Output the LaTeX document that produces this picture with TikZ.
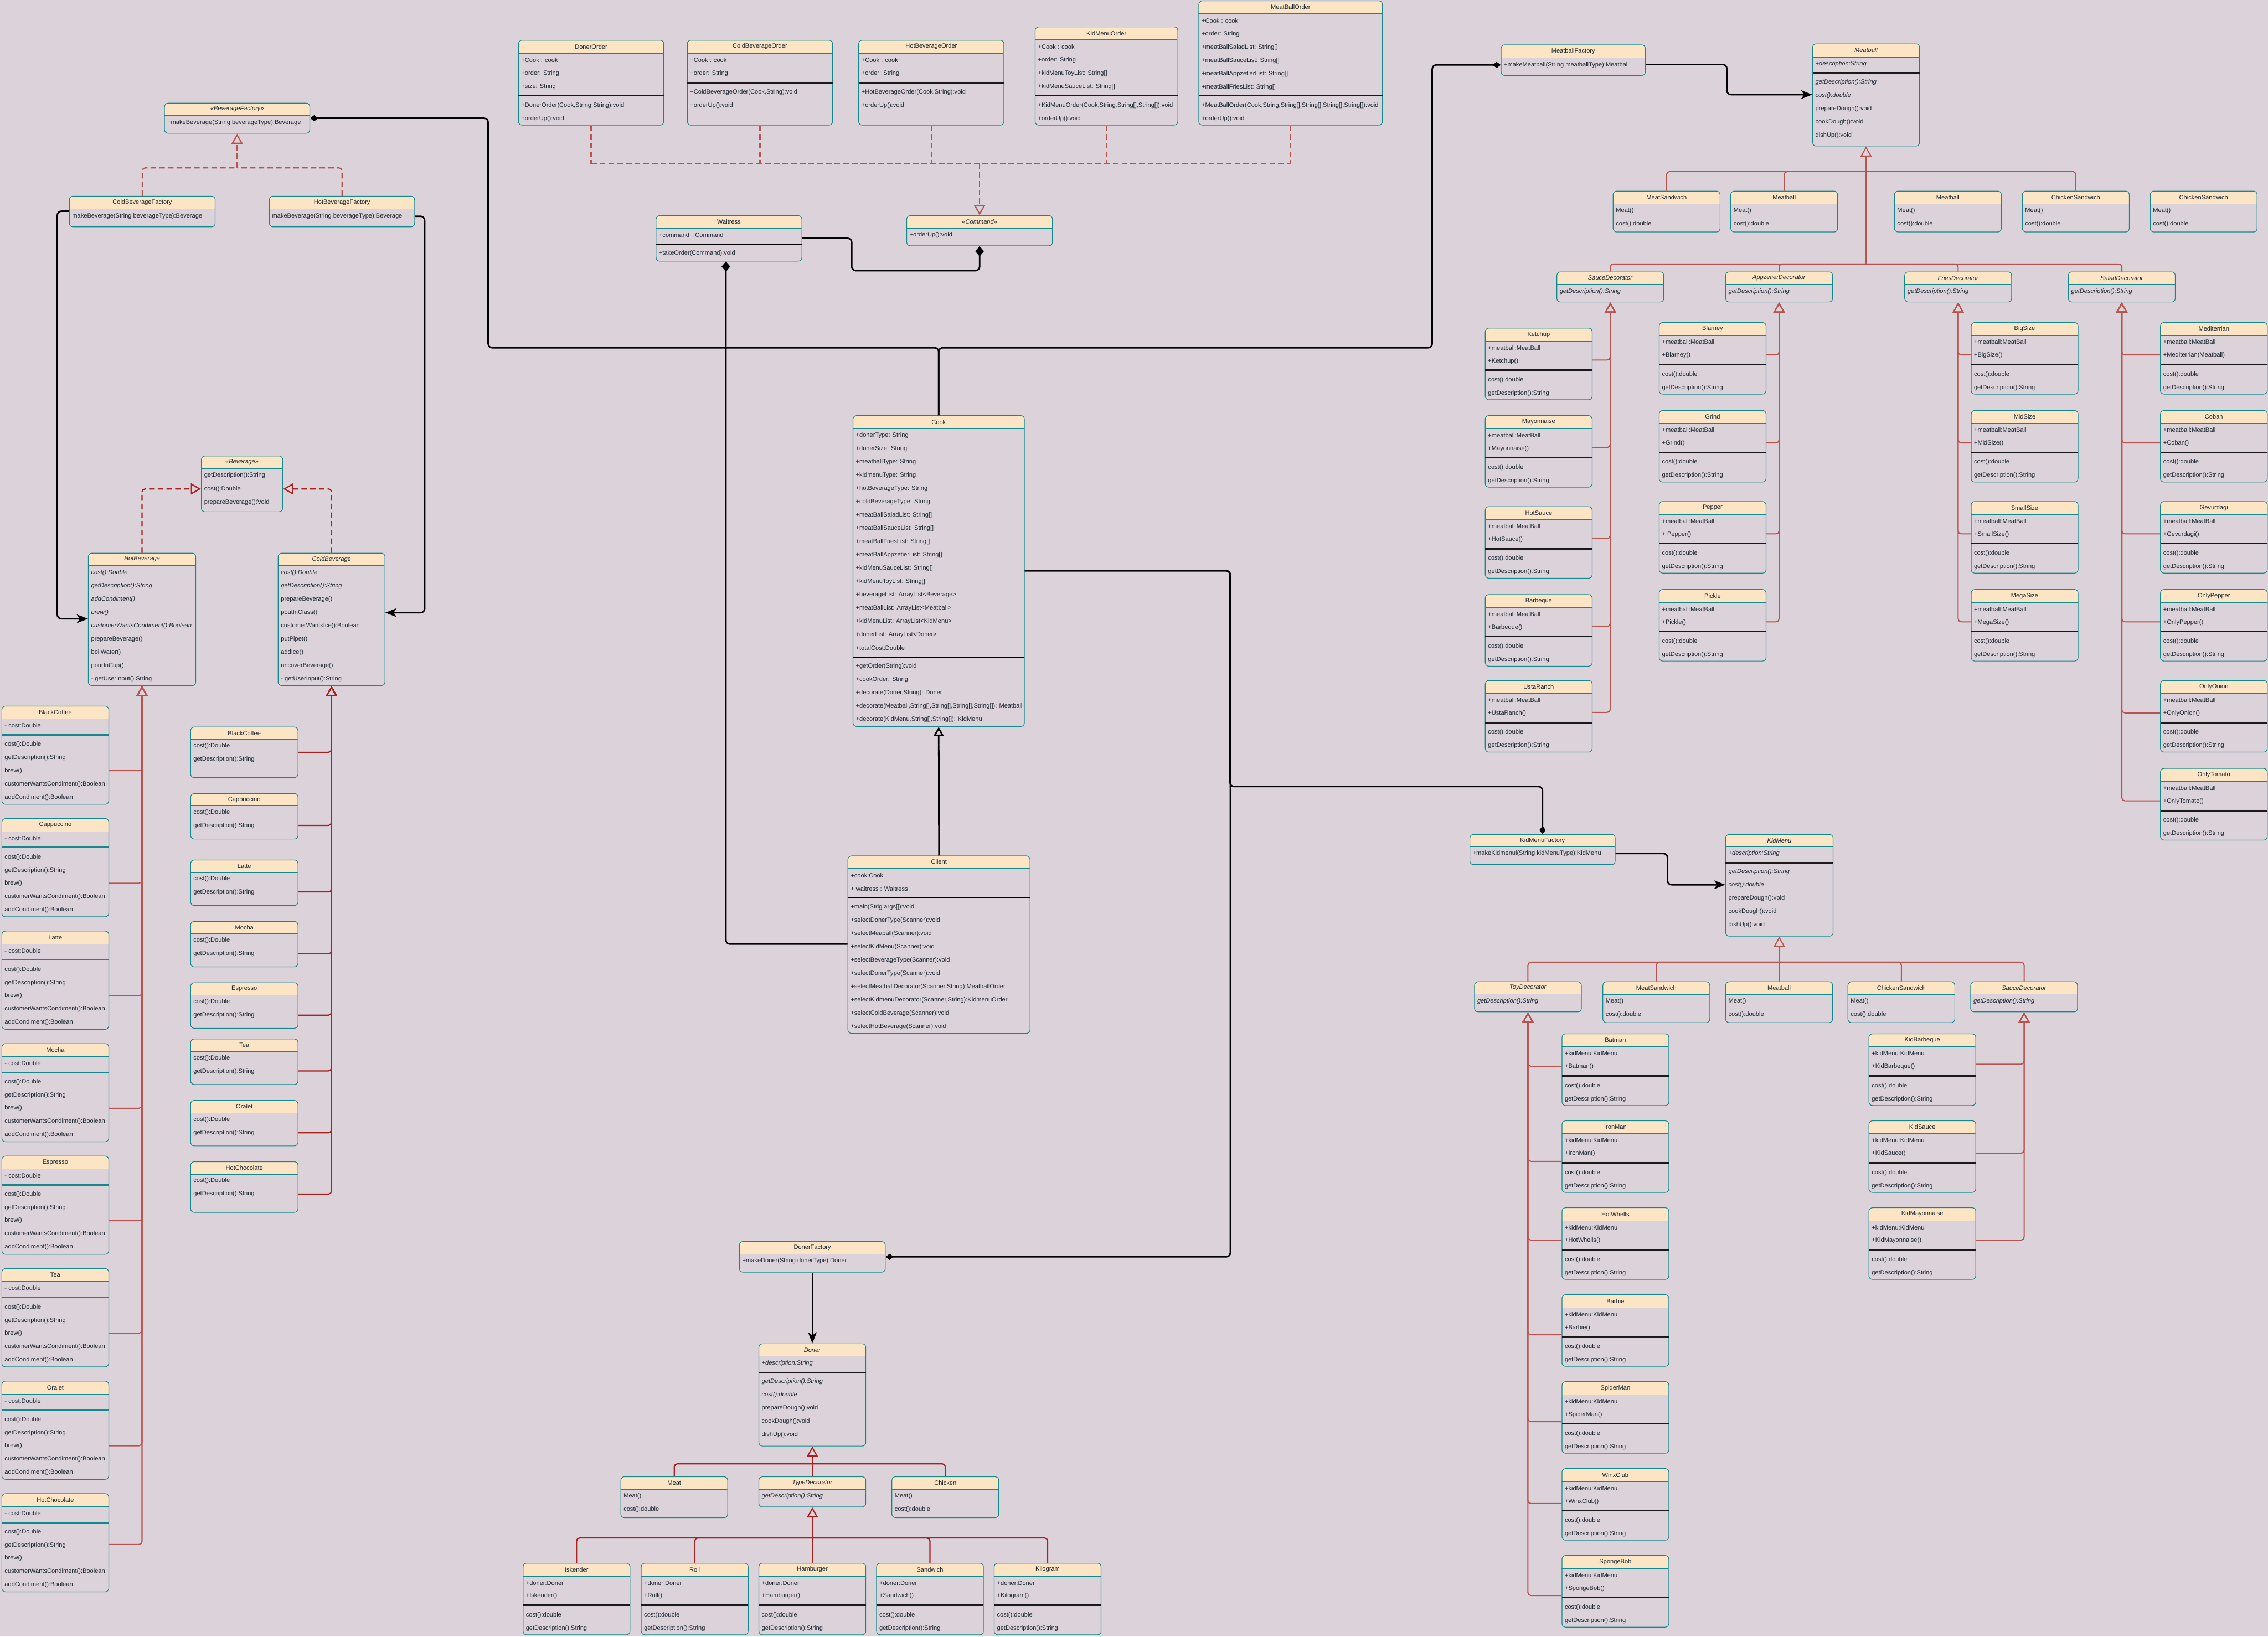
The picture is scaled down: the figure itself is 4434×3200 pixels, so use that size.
\documentclass[tikz,border=0pt]{standalone}
\usepackage{fontspec}
\setmainfont{Liberation Sans}
\usetikzlibrary{arrows.meta,calc}
\definecolor{bgc}{HTML}{DCD3DA}
\definecolor{hdr}{HTML}{FCE5C4}
\definecolor{bord}{HTML}{12898D}
\definecolor{txt}{HTML}{1B2733}
\definecolor{redA}{HTML}{B85450}
\definecolor{redB}{HTML}{A82222}
\tikzset{
 boxframe/.style={draw=bord, line width=1.3pt, rounded corners=7pt, inner sep=0pt},
 sepline/.style={draw=black!90, line width=3pt},
 tsepline/.style={draw=bord, line width=3.2pt},
 redl/.style={draw=redA, line width=2.2pt, rounded corners=6pt},
 redd/.style={draw=redB, line width=2.4pt, rounded corners=6pt},
 dsh/.style={draw=redA, line width=2.5pt, dash pattern=on 11pt off 6pt, rounded corners=6pt},
 dshd/.style={draw=redB, line width=2.5pt, dash pattern=on 11pt off 6pt, rounded corners=6pt},
 tri/.style={-{Triangle[open, length=20pt, width=22pt]}},
 blk/.style={draw=black, line width=3pt, rounded corners=8pt},
 dia/.style={-{Diamond[length=16pt, width=12pt]}},
 bigdia/.style={-{Diamond[length=20pt, width=17pt]}},
 stl/.style={-{Stealth[length=22pt, width=17pt, inset=6pt]}},
 otri/.style={-{Triangle[open, length=18pt, width=20pt]}},
}
\newcommand\stereo[1]{\textless\textless#1\textgreater\textgreater}
% box: id, x, y, w, h, header height, title
\newcommand\ubox[7]{%
  \begin{scope}
    \clip[rounded corners=7pt] (#2,#3) rectangle ++(#4,#5);
    \fill[hdr] (#2,#3) rectangle ++(#4,#6);
    \draw[bord, line width=1.2pt] ($(#2,#3)+(0,#6)$) -- ++(#4,0);
  \end{scope}
  \node[boxframe, minimum width=#4pt, minimum height=#5pt, anchor=north west] (#1) at (#2,#3) {};
  \node at ($(#1.north)+(0,#6/2)$) {#7};
}
\newcommand\urow[3]{\node[anchor=west] at ($(#1.north west)+(6,#2)$) {#3};}
\newcommand\urows[4]{\foreach \mytext [count=\myi from 0] in {#4} {\urow{#1}{#2+#3*\myi}{\mytext}}}
\newcommand\usep[2]{\draw[sepline] ($(#1.north west)+(0.6,#2)$) -- ($(#1.north east)+(-0.6,#2)$);}
\newcommand\utsep[2]{\draw[tsepline] ($(#1.north west)+(0.6,#2)$) -- ($(#1.north east)+(-0.6,#2)$);}
% decorator child: id, x, y, title, attr1, attr2
\newcommand\uchild[6]{%
  \ubox{#1}{#2}{#3}{209}{140}{26}{#4}%
  \urow{#1}{39}{#5}\urow{#1}{65}{#6}\usep{#1}{83}%
  \urow{#1}{102}{cost():double}\urow{#1}{128}{getDescription():String}}
\newcommand\usimple[4]{%
  \ubox{#1}{#2}{#3}{209}{80}{26}{#4}\urow{#1}{39}{Meat()}\urow{#1}{65}{cost():double}}
\newcommand\udeco[4]{%
  \ubox{#1}{#2}{#3}{209}{59}{25}{\textit{#4}}\urow{#1}{39}{\textit{getDescription():String}}}
\newcommand\uhot[3]{%
  \ubox{#1}{3}{#2}{209}{192}{26}{#3}\urow{#1}{39}{- cost:Double}\utsep{#1}{57}%
  \urow{#1}{76}{cost():Double}\urow{#1}{102}{getDescription():String}\urow{#1}{127}{brew()}%
  \urow{#1}{153}{customerWantsCondiment():Boolean}\urow{#1}{179}{addCondiment():Boolean}}
\newcommand\ucold[4]{%
  \ubox{#1}{372}{#2}{210}{#4}{25}{#3}\urow{#1}{38}{cost():Double}\urow{#1}{64}{getDescription():String}}

\begin{document}
\begin{tikzpicture}[x=1pt, y=-1pt, every node/.style={font=\fontsize{12}{14}\selectfont, text=txt, inner sep=0pt}]
\useasboundingbox (0,0) rectangle (4434,3200);
\fill[bgc] (0,0) rectangle (4434,3200);

% ================= Orders =================
\ubox{dord}{1013}{78}{284}{166}{26}{DonerOrder}
\urows{dord}{40}{26}{{+Cook : cook},{+order: String},{+size: String}}
\usep{dord}{109}
\urows{dord}{128}{26}{{+DonerOrder(Cook,String,String):void},{+orderUp():void}}

\ubox{cord}{1343}{78}{284}{166}{26}{ColdBeverageOrder}
\urows{cord}{40}{26}{{+Cook : cook},{+order: String}}
\usep{cord}{84}
\urows{cord}{102}{26}{{+ColdBeverageOrder(Cook,String):void},{+orderUp():void}}

\ubox{hord}{1678}{78}{284}{166}{26}{HotBeverageOrder}
\urows{hord}{40}{26}{{+Cook : cook},{+order: String}}
\usep{hord}{84}
\urows{hord}{102}{26}{{+HotBeverageOrder(Cook,String):void},{+orderUp():void}}

\ubox{kord}{2023}{52}{279}{192}{26}{KidMenuOrder}
\urows{kord}{40}{26}{{+Cook : cook},{+order: String},{+kidMenuToyList: String[]},{+kidMenuSauceList: String[]}}
\usep{kord}{135}
\urows{kord}{154}{26}{{+KidMenuOrder(Cook,String,String[],String[]):void},{+orderUp():void}}

\ubox{mord}{2343}{1}{359}{243}{26}{MeatBallOrder}
\urows{mord}{40}{26}{{+Cook : cook},{+order: String},{+meatBallSaladList: String[]},{+meatBallSauceList: String[]},{+meatBallAppzetierList: String[]},{+meatBallFriesList: String[]}}
\usep{mord}{186}
\urows{mord}{205}{26}{{+MeatBallOrder(Cook,String,String[],String[],String[],String[]):void},{+orderUp():void}}

% ================= Waitress / Command / Cook / Client =================
\ubox{ws}{1282}{421}{285}{89}{26}{Waitress}
\urow{ws}{39}{+command : Command}
\draw[black, line width=2.2pt] ($(ws.north west)+(0.6,57)$) -- ($(ws.north east)+(-0.6,57)$);
\urow{ws}{74}{+takeOrder(Command):void}

\ubox{cmd}{1772}{421}{285}{59}{26}{\textit{\stereo{Command}}}
\urow{cmd}{39}{+orderUp():void}

\ubox{cook}{1667}{812}{335}{608}{26}{Cook}
\urows{cook}{39.6}{26}{{+donerType: String},{+donerSize: String},{+meatballType: String},{+kidmenuType: String},{+hotBeverageType: String},{+coldBeverageType: String},{+meatBallSaladList: String[]},{+meatBallSauceList: String[]},{+meatBallFriesList: String[]},{+meatBallAppzetierList: String[]},{+kidMenuSauceList: String[]},{+kidMenuToyList: String[]},{+beverageList: ArrayList\textless Beverage\textgreater},{+meatBallList: ArrayList\textless Meatball\textgreater},{+kidMenuList: ArrayList\textless KidMenu\textgreater},{+donerList: ArrayList\textless Doner\textgreater},{+totalCost:Double}}
\draw[black, line width=2.2pt] ($(cook.north west)+(0.6,473)$) -- ($(cook.north east)+(-0.6,473)$);
\urows{cook}{491}{26}{{+getOrder(String):void},{+cookOrder: String},{+decorate(Doner,String): Doner},{+decorate(Meatball,String[],String[],String[],String[]): Meatball},{+decorate(KidMenu,String[],String[]): KidMenu}}

\ubox{client}{1657}{1673}{356}{347}{25}{Client}
\urows{client}{39}{26}{{+cook:Cook},{+ waitress : Waitress}}
\draw[black, line width=2.2pt] ($(client.north west)+(0.6,83)$) -- ($(client.north east)+(-0.6,83)$);
\urows{client}{101}{26}{{+main(Strig args[]):void},{+selectDonerType(Scanner):void},{+selectMeaball(Scanner):void},{+selectKidMenu(Scanner):void},{+selectBeverageType(Scanner):void},{+selectDonerType(Scanner):void},{+selectMeatballDecorator(Scanner,String):MeatballOrder},{+selectKidmenuDecorator(Scanner,String):KidmenuOrder},{+selectColdBeverage(Scanner):void},{+selectHotBeverage(Scanner):void}}

% ================= Beverages =================
\ubox{bf}{321}{201}{284}{59}{25}{\textit{\stereo{BeverageFactory}}}
\urow{bf}{39}{+makeBeverage(String beverageType):Beverage}
\ubox{cbf}{135}{383}{285}{60}{26}{ColdBeverageFactory}
\urow{cbf}{40}{makeBeverage(String beverageType):Beverage}
\ubox{hbf}{526}{383}{284}{60}{26}{HotBeverageFactory}
\urow{hbf}{40}{makeBeverage(String beverageType):Beverage}

\ubox{bev}{393}{891}{159}{109}{25}{\textit{\stereo{Beverage}}}
\urows{bev}{39}{26}{{getDescription():String},{cost():Double},{prepareBeverage():Void}}

\ubox{hb}{172}{1081}{210}{259}{25}{\textit{HotBeverage}}
\urows{hb}{39}{26}{{\textit{cost():Double}},{\textit{getDescription():String}},{\textit{addCondiment()}},{\textit{brew()}},{\textit{customerWantsCondiment():Boolean}},{prepareBeverage()},{boilWater()},{pourInCup()},{- getUserInput():String}}

\ubox{cb}{543}{1081}{209}{259}{25}{\textit{ColdBeverage}}
\urows{cb}{39}{26}{{\textit{cost():Double}},{\textit{getDescription():String}},{prepareBeverage()},{poutInClass()},{customerWantsIce():Boolean},{putPipet()},{addIce()},{uncoverBeverage()},{- getUserInput():String}}

\uhot{hc1}{1380}{BlackCoffee}
\uhot{hc2}{1600}{Cappuccino}
\uhot{hc3}{1820}{Latte}
\uhot{hc4}{2040}{Mocha}
\uhot{hc5}{2260}{Espresso}
\uhot{hc6}{2480}{Tea}
\uhot{hc7}{2700}{Oralet}
\uhot{hc8}{2920}{HotChocolate}

\ucold{cc1}{1421}{BlackCoffee}{99}
\ucold{cc2}{1551}{Cappuccino}{89}
\ucold{cc3}{1681}{Latte}{89}
\ucold{cc4}{1801}{Mocha}{89}
\ucold{cc5}{1921}{Espresso}{89}
\ucold{cc6}{2031}{Tea}{89}
\ucold{cc7}{2151}{Oralet}{89}
\ucold{cc8}{2271}{HotChocolate}{99}

% ================= Doner =================
\ubox{df}{1445}{2427}{285}{60}{25}{DonerFactory}
\urow{df}{39}{+makeDoner(String donerType):Doner}
\ubox{doner}{1483}{2627}{209}{200}{25}{\textit{Doner}}
\urow{doner}{39}{\textit{+description:String}}
\usep{doner}{57}
\urows{doner}{75}{26}{{\textit{getDescription():String}},{\textit{cost():double}},{prepareDough():void},{cookDough():void},{dishUp():void}}
\usimple{meat}{1213}{2887}{Meat}
\udeco{tdec}{1483}{2887}{TypeDecorator}
\usimple{chick}{1743}{2887}{Chicken}
\uchild{isk}{1022}{3056}{Iskender}{+doner:Doner}{+Iskender()}
\uchild{roll}{1253}{3056}{Roll}{+doner:Doner}{+Roll()}
\uchild{hamb}{1483}{3056}{Hamburger}{+doner:Doner}{+Hamburger()}
\uchild{sand}{1713}{3056}{Sandwich}{+doner:Doner}{+Sandwich()}
\uchild{kilo}{1943}{3056}{Kilogram}{+doner:Doner}{+Kilogram()}

% ================= Meatball =================
\ubox{mbf}{2934}{87}{282}{60}{26}{MeatballFactory}
\urow{mbf}{40}{+makeMeatball(String meatballType):Meatball}
\ubox{mb}{3543}{85}{209}{200}{27}{\textit{Meatball}}
\urow{mb}{40}{\textit{+description:String}}
\usep{mb}{57}
\urows{mb}{76}{26}{{\textit{getDescription():String}},{\textit{cost():double}},{prepareDough():void},{cookDough():void},{dishUp():void}}
\usimple{ms1}{3153}{373}{MeatSandwich}
\usimple{mb1}{3383}{373}{Meatball}
\usimple{mb2}{3703}{373}{Meatball}
\usimple{cs1}{3953}{373}{ChickenSandwich}
\usimple{cs2}{4203}{373}{ChickenSandwich}
\udeco{sdec}{3043}{531}{SauceDecorator}
\udeco{adec}{3373}{531}{AppzetierDecorator}
\udeco{fdec}{3723}{531}{FriesDecorator}
\udeco{ldec}{4043}{531}{SaladDecorator}
\uchild{ketchup}{2903}{641}{Ketchup}{+meatball:MeatBall}{+Ketchup()}
\uchild{mayo}{2903}{812}{Mayonnaise}{+meatball:MeatBall}{+Mayonnaise()}
\uchild{hsauce}{2903}{990}{HotSauce}{+meatball:MeatBall}{+HotSauce()}
\uchild{bbq}{2903}{1162}{Barbeque}{+meatball:MeatBall}{+Barbeque()}
\uchild{usta}{2903}{1330}{UstaRanch}{+meatball:MeatBall}{+UstaRanch()}
\uchild{blarney}{3243}{630}{Blarney}{+meatball:MeatBall}{+Blarney()}
\uchild{grind}{3243}{802}{Grind}{+meatball:MeatBall}{+Grind()}
\uchild{pepper}{3243}{980}{Pepper}{+meatball:MeatBall}{+ Pepper()}
\uchild{pickle}{3243}{1152}{Pickle}{+meatball:MeatBall}{+Pickle()}
\uchild{big}{3853}{630}{BigSize}{+meatball:MeatBall}{+BigSize()}
\uchild{mid}{3853}{802}{MidSize}{+meatball:MeatBall}{+MidSize()}
\uchild{small}{3853}{980}{SmallSize}{+meatball:MeatBall}{+SmallSize()}
\uchild{mega}{3853}{1152}{MegaSize}{+meatball:MeatBall}{+MegaSize()}
\uchild{medit}{4223}{630}{Mediterrian}{+meatball:MeatBall}{+Mediterrian(Meatball)}
\uchild{coban}{4223}{802}{Coban}{+meatball:MeatBall}{+Coban()}
\uchild{gevur}{4223}{980}{Gevurdagi}{+meatball:MeatBall}{+Gevurdagi()}
\uchild{opep}{4223}{1152}{OnlyPepper}{+meatball:MeatBall}{+OnlyPepper()}
\uchild{oon}{4223}{1330}{OnlyOnion}{+meatball:MeatBall}{+OnlyOnion()}
\uchild{otom}{4223}{1502}{OnlyTomato}{+meatball:MeatBall}{+OnlyTomato()}

% ================= KidMenu =================
\ubox{kmf}{2873}{1631}{284}{59}{25}{KidMenuFactory}
\urow{kmf}{38}{+makeKidmenul(String kidMenuType):KidMenu}
\ubox{km}{3373}{1631}{210}{199}{25}{\textit{KidMenu}}
\urow{km}{38}{\textit{+description:String}}
\usep{km}{56}
\urows{km}{74}{26}{{\textit{getDescription():String}},{\textit{cost():double}},{prepareDough():void},{cookDough():void},{dishUp():void}}
\udeco{tdk}{2882}{1919}{ToyDecorator}
\usimple{ksand}{3133}{1919}{MeatSandwich}
\usimple{kmb}{3373}{1919}{Meatball}
\usimple{kcs}{3612}{1919}{ChickenSandwich}
\udeco{ksdec}{3852}{1919}{SauceDecorator}
\uchild{batman}{3053}{2021}{Batman}{+kidMenu:KidMenu}{+Batman()}
\uchild{ironman}{3053}{2191}{IronMan}{+kidMenu:KidMenu}{+IronMan()}
\uchild{hotw}{3053}{2361}{HotWhells}{+kidMenu:KidMenu}{+HotWhells()}
\uchild{barbie}{3053}{2531}{Barbie}{+kidMenu:KidMenu}{+Barbie()}
\uchild{spider}{3053}{2701}{SpiderMan}{+kidMenu:KidMenu}{+SpiderMan()}
\uchild{winx}{3053}{2871}{WinxClub}{+kidMenu:KidMenu}{+WinxClub()}
\uchild{sponge}{3053}{3041}{SpongeBob}{+kidMenu:KidMenu}{+SpongeBob()}
\uchild{kbbq}{3653}{2021}{KidBarbeque}{+kidMenu:KidMenu}{+KidBarbeque()}
\uchild{ksauce}{3653}{2191}{KidSauce}{+kidMenu:KidMenu}{+KidSauce()}
\uchild{kmayo}{3653}{2361}{KidMayonnaise}{+kidMenu:KidMenu}{+KidMayonnaise()}

% ================= Red connectors =================
\coordinate (cj) at ($(cmd.north)+(0,-101)$);
\foreach \o in {dord,cord,hord,kord,mord} \draw[dsh] (\o.south) -- (\o.south |- cj);
\draw[dsh] (dord.south |- cj) -- (mord.south |- cj);
\draw[dsh, tri] (cj) -- (cmd.north);
\coordinate (bj) at ($(bf.south)+(0,67)$);
\draw[dsh] (cbf.north) |- (bj);
\draw[dsh] (hbf.north) |- (bj);
\draw[dsh, tri] (bj) -- (bf.south);
\draw[dshd, tri] (hb.north) |- ($(bev.north west)+(0,65)$);
\draw[dshd, tri] (cb.north) |- ($(bev.north east)+(0,65)$);
\foreach \c/\o in {hc1/127,hc2/127,hc3/127,hc4/127,hc5/127,hc6/127,hc7/127,hc8/100}
  \draw[redl, tri] ($(\c.north east)+(0,\o)$) -| (hb.south);
\foreach \c/\o in {cc1/50,cc2/63,cc3/63,cc4/64,cc5/64,cc6/63,cc7/64,cc8/64}
  \draw[redd, tri] ($(\c.north east)+(0,\o)$) -| (cb.south);
\coordinate (dj) at ($(doner.south)+(0,34)$);
\draw[redd] (meat.north) |- (dj);
\draw[redd] (chick.north) |- (dj);
\draw[redd, tri] (tdec.north) -- (doner.south);
\coordinate (tj) at ($(tdec.south)+(0,60)$);
\foreach \c in {isk,roll,sand,kilo} \draw[redd] (\c.north) |- (tj);
\draw[redd, tri] (hamb.north) -- (tdec.south);
\coordinate (mj1) at ($(mb.south)+(0,49)$);
\foreach \c in {ms1,mb1,cs1} \draw[redl] (\c.north) |- (mj1);
\coordinate (mj2) at ($(mb.south)+(0,230)$);
\foreach \c in {sdec,adec,fdec,ldec} \draw[redl] (\c.north) |- (mj2);
\draw[redl, tri] (mj2) -- (mb.south);
\foreach \c in {ketchup,mayo,hsauce,bbq,usta}
  \draw[redl, tri] ($(\c.north east)+(0,63)$) -| (sdec.south);
\foreach \c in {blarney,grind,pepper,pickle}
  \draw[redl, tri] ($(\c.north east)+(0,64)$) -| (adec.south);
\foreach \c in {big,mid,small,mega}
  \draw[redl, tri] ($(\c.north west)+(0,64)$) -| (fdec.south);
\foreach \c in {medit,coban,gevur,opep,oon,otom}
  \draw[redl, tri] ($(\c.north west)+(0,64)$) -| (ldec.south);
\coordinate (kj) at ($(km.south)+(0,50)$);
\foreach \c in {tdk,ksand,kcs,ksdec} \draw[redl] (\c.north) |- (kj);
\draw[redl, tri] (kmb.north) -- (km.south);
\foreach \c/\o in {batman/64,ironman/80,hotw/64,barbie/79,spider/79,winx/69,sponge/79}
  \draw[redl, tri] ($(\c.north west)+(0,\o)$) -| (tdk.south);
\foreach \c/\o in {kbbq/60,ksauce/64,kmayo/64}
  \draw[redl, tri] ($(\c.north east)+(0,\o)$) -| (ksdec.south);

% ================= Black connectors =================
\draw[blk, bigdia] ($(ws.north east)+(0,45)$) -| ($(cmd.south)+(-250,48)$) -| (cmd.south);
\draw[blk, bigdia] ($(client.north west)+(0,173)$) -| ($(ws.south)+(-6,0)$);
\coordinate (ck) at ($(cook.north)+(0,-132)$);
\draw[blk, dia] (cook.north) -- (ck) -| ($(bf.east)+(348,0)$) -- (bf.east);
\draw[blk, dia] (cook.north) -- (ck) -| ($(mbf.north west)+(-134,40)$) -- ($(mbf.north west)+(0,40)$);
\draw[blk, dia] ($(cook.north east)+(0,304)$) -| ($(df.east)+(674,0)$) -- (df.east);
\draw[blk, dia] ($(cook.north east)+(0,304)$) -| ($(kmf.north)+(-611,-93)$) -| (kmf.north);
\draw[blk, stl] (df.south) -- (doner.north);
\draw[blk, otri] (client.north) -- (cook.south);
\draw[blk, stl] ($(mbf.north east)+(0,39)$) -| ($(mb.north west)+(-167,100)$) -- ($(mb.north west)+(0,100)$);
\draw[blk, stl] ($(kmf.north east)+(0,38)$) -| ($(km.north west)+(-113,99)$) -- ($(km.north west)+(0,99)$);
\draw[blk, stl] ($(cbf.north west)+(0,30)$) -| ($(hb.north west)+(-60,129)$) -- ($(hb.north west)+(0,129)$);
\draw[blk, stl] ($(hbf.north east)+(0,40)$) -| ($(cb.north east)+(77,117)$) -- ($(cb.north east)+(0,117)$);
\end{tikzpicture}
\end{document}
